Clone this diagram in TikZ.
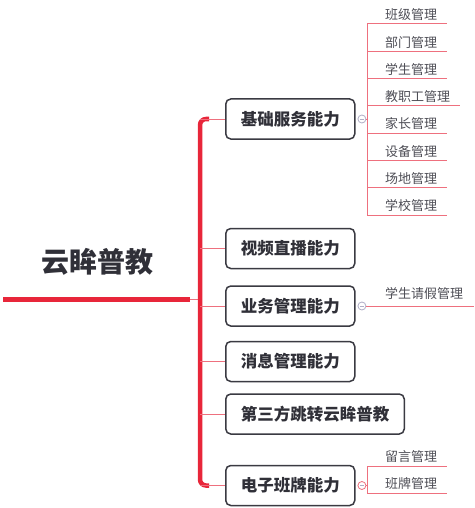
\documentclass[tikz,border=0pt]{standalone}
\usepackage{fontspec}
\setmainfont{Noto Sans CJK SC}
\usetikzlibrary{positioning}
\definecolor{trunkred}{RGB}{232,38,58}
\definecolor{twigpink}{RGB}{238,112,126}
\definecolor{boxgray}{RGB}{58,58,66}
\definecolor{inkdark}{RGB}{48,48,56}
\definecolor{leafgray}{RGB}{78,78,86}
\definecolor{knobgray}{RGB}{176,174,198}
\begin{document}
\begin{tikzpicture}[x=1pt, y=-1pt,
    ability/.style={draw=boxgray, rounded corners=5pt, line width=1.5pt, fill=white, inner xsep=15pt, minimum height=40pt, font=\fontsize{16.5}{18}\selectfont\bfseries, text=inkdark},
    leaf/.style={anchor=south west, inner xsep=0pt, inner ysep=3pt, font=\fontsize{13}{15}\selectfont, text=leafgray},
    trunk/.style={draw=trunkred, line width=4.5pt},
    twig/.style={draw=twigpink, line width=1pt},
    knob/.style={circle, draw=knobgray, line width=0.8pt, minimum size=8pt, inner sep=0pt, fill=white,
        path picture={\draw[knobgray, line width=0.7pt] ([xshift=-2pt]path picture bounding box.center) -- ([xshift=2pt]path picture bounding box.center);}}
]
    \useasboundingbox (0,0) rectangle (474,508);

    % Root topic
    \node[font=\fontsize{28}{32}\selectfont\bfseries, text=inkdark] (root) at (97,262) {云眸普教};
    \coordinate (rl) at (3,299);
    \coordinate (rr) at (190,299);
    \coordinate (tk) at (200,299);

    % Main abilities
    \node[ability, anchor=west] (b1) at (225,119) {基础服务能力};
    \node[ability, below=88pt of b1.south west, anchor=north west] (b2) {视频直播能力};
    \node[ability, below=16pt of b2.south west, anchor=north west] (b3) {业务管理能力};
    \node[ability, below=14pt of b3.south west, anchor=north west] (b4) {消息管理能力};
    \node[ability, below=11pt of b4.south west, anchor=north west] (b5) {第三方跳转云眸普教};
    \node[ability, below=30pt of b5.south west, anchor=north west] (b6) {电子班牌能力};

    % Trunk
    \draw[trunk, line width=5pt] (rl) -- (rr);
    \draw[twig] (rr) -- (tk);
    \draw[trunk, rounded corners=6pt] ([xshift=9pt]tk |- b1.west) -- (tk |- b1.west) -- (tk |- b6.west) -- ([xshift=9pt]tk |- b6.west);
    \foreach \b in {b1,b2,b3,b4,b5,b6}
        \draw[twig] (tk |- \b.west) -- (\b.west);

    % Collapse knobs
    \node[knob, right=2pt of b1] (k1) {};
    \node[knob, right=2pt of b3] (k3) {};
    \node[knob, right=2pt of b6, draw=twigpink] (k6) {};

    % Basic service leaves
    \coordinate (sp1) at (367,119);
    \foreach \t [count=\i] in {班级管理,部门管理,学生管理,教职工管理,家长管理,设备管理,场地管理,学校管理}
        \node[leaf] (a\i) at (385, {24+27.3*(\i-1)}) {\t};
    \draw[twig] (k1) -- (k1 -| sp1);
    \draw[twig] (sp1 |- a1.south) -- (sp1 |- a8.south);
    \foreach \i in {1,...,8}
        \draw[twig] (sp1 |- a\i.south) -- ([xshift=10pt]a\i.south east);

    % Business management leaf
    \node[leaf] (p1) at (385,303) {学生请假管理};
    \coordinate (pe) at (474,303);
    \draw[twig] (k3) -- (k3 -| pe);

    % E-class board leaves
    \coordinate (sp6) at (367,479);
    \node[leaf] (e1) at (385,466) {留言管理};
    \node[leaf] (e2) at (385,493) {班牌管理};
    \draw[twig] (k6) -- (k6 -| sp6);
    \draw[twig] (sp6 |- e1.south) -- (sp6 |- e2.south);
    \foreach \e in {e1,e2}
        \draw[twig] (sp6 |- \e.south) -- ([xshift=10pt]\e.south east);
\end{tikzpicture}
\end{document}
